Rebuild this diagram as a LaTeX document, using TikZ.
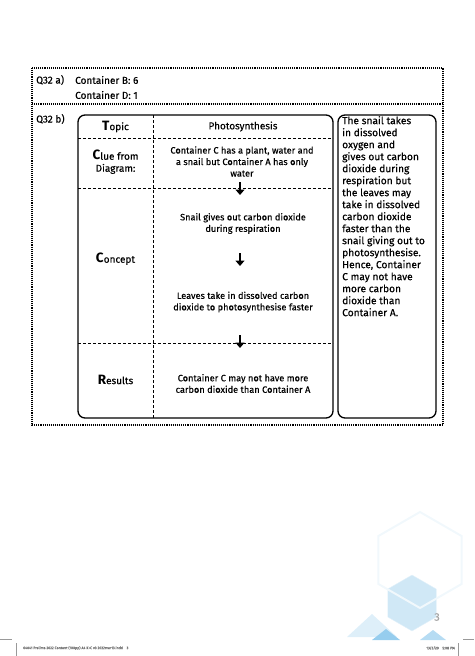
\documentclass[tikz,border=0pt]{standalone}
\usepackage{fontspec}
\setmainfont{Fira Sans}[UprightFeatures={FakeBold=0.25}]
\usetikzlibrary{arrows.meta, positioning, shapes.geometric}

\definecolor{hexblue}{RGB}{208,232,246}
\definecolor{hexdeep}{RGB}{150,205,238}

\tikzset{
  frame/.style={line width=1.1pt, densely dotted},
  cell/.style={line width=0.5pt, densely dashed},
  tbox/.style={draw, line width=1.3pt, rounded corners=7pt},
  lbl/.style={font=\fontsize{10}{12}\selectfont, align=center, inner sep=0pt},
  body/.style={font=\fontsize{9.2}{11.5}\selectfont, align=center, inner sep=0pt},
  side/.style={font=\fontsize{10.2}{12}\selectfont, align=left, anchor=north west, inner sep=0pt},
  down/.style={-{Triangle[length=5.5pt,width=9pt]}, line width=2.6pt},
  hexa/.style={regular polygon, regular polygon sides=6, shape border rotate=30, minimum size=#1, inner sep=0pt},
  foot/.style={font=\fontsize{3.6}{4}\selectfont, text=black!55, inner sep=0pt},
}
\newcommand{\firstcap}[2]{{\fontsize{13.5}{14}\selectfont\bfseries #1}#2}

\begin{document}
\begin{tikzpicture}[x=1pt, y=-1pt]
\useasboundingbox (0,0) rectangle (474,656);

% Fondo de la pagina
\node[hexa=56pt, fill=hexblue, draw=hexblue!60] (h1) at (412,603) {};
\node[hexa=96pt, draw=hexblue!30, line width=2pt] (h2) at (420,560) {};
\fill[hexblue!70] (347,637) -- (372,614) -- (397,637) -- cycle;
\fill[hexdeep] (372,640) -- (386,629) -- (400,640) -- cycle;
\fill[hexdeep!70] (420,640) -- (433,630) -- (446,640) -- cycle;
\node[font=\fontsize{11}{11}\selectfont, text=black!35] (pg) at (437,617) {3};
\node[foot, anchor=west] (f1) at (23,648) {04041 Prelims 2022 Content (100pp) A4 K+C v3 2022mar13.indd\quad 3};
\node[foot, anchor=east] (f2) at (455,648) {13/5/20\quad 5:08 PM};
\draw[black!40, line width=0.3pt] (0,639) -- (12,639) (16,643) -- (16,656)
  (463,639) -- (474,639) (458,643) -- (458,656);

% Marco punteado
\draw[frame] (32,68) rectangle (443,425);
\draw[frame] (32,104) -- (443,104);

% Q32 a)
\node[lbl, anchor=west] (qa) at (36,80) {Q32 a)};
\node[lbl, anchor=west] (cb) at (75,80) {Container B: 6};
\node[lbl, anchor=west] (cd) at (75,95) {Container D: 1};

% Q32 b)
\node[lbl, anchor=west] (qb) at (36,119) {Q32 b)};
\draw[tbox] (78,115) rectangle (333,418);
\draw[tbox] (338,115) rectangle (436,418);
\draw[cell] (153,115) -- (153,418);
\draw[cell] (78,138) -- (333,138);
\draw[cell] (78,188) -- (333,188);
\draw[cell] (78,343) -- (333,343);

% Filas
\node[lbl] (topic) at (115.5,126.5) {\firstcap{T}{opic}};
\node[lbl] (photo) at (243,126.5) {Photosynthesis};
\node[lbl] (clue) at (115.5,162) {\firstcap{C}{lue from}\\Diagram:};
\node[body] (clueT) at (242,161.5) {Container C has a plant, water and\\a snail but Container A has only\\water};
\node[lbl] (concept) at (115.5,259) {\firstcap{C}{oncept}};
\node[body] (snail) at (243,223.5) {Snail gives out carbon dioxide\\during respiration};
\node[body] (leaves) at (243,302) {Leaves take in dissolved carbon\\dioxide to photosynthesise faster};
\node[lbl] (results) at (115.5,379.5) {\firstcap{R}{esults}};
\node[body] (resT) at (243,383.5) {Container C may not have more\\carbon dioxide than Container A};

% Flechas
\coordinate (a1) at (240,182);
\coordinate (a2) at (240,195);
\coordinate (b1) at (240,253);
\coordinate (b2) at (240,266);
\coordinate (c1) at (240,335);
\coordinate (c2) at (240,348);
\draw[down] (a1) -- (a2);
\draw[down] (b1) -- (b2);
\draw[down] (c1) -- (c2);

% Respuesta
\node[side] (ans) at (342,116) {The snail takes\\in dissolved\\oxygen and\\gives out carbon\\dioxide during\\respiration but\\the leaves may\\take in dissolved\\carbon dioxide\\faster than the\\snail giving out to\\photosynthesise.\\Hence, Container\\C may not have\\more carbon\\dioxide than\\Container A.};
\end{tikzpicture}
\end{document}
